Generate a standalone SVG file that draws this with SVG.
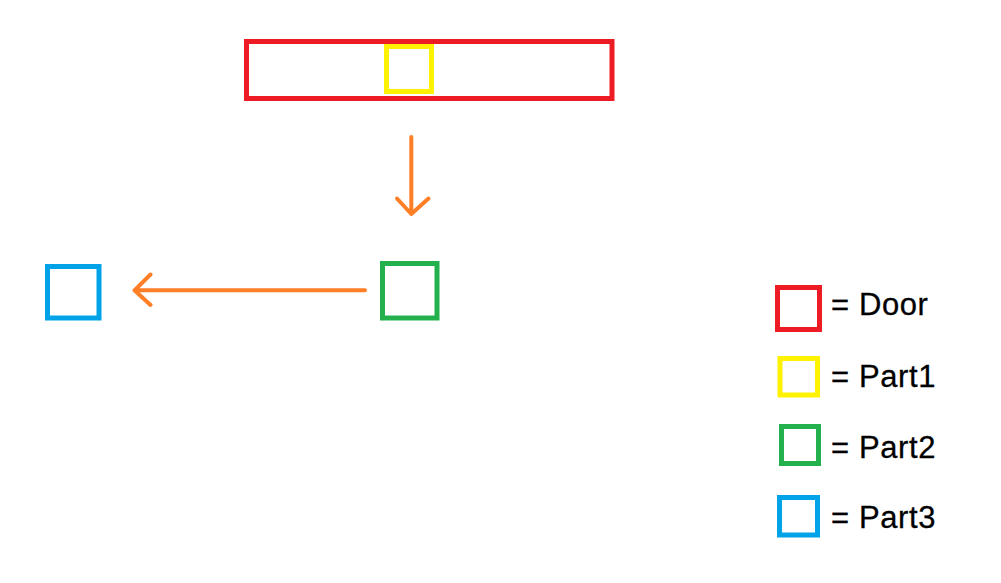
<svg xmlns="http://www.w3.org/2000/svg" width="1001" height="583" viewBox="0 0 1001 583">
<style>
.box{fill:none;stroke-width:5}
.red{stroke:#ED1C24}
.yellow{stroke:#FFF200}
.green{stroke:#22B14C}
.blue{stroke:#00A2E8}
.conn{fill:none;stroke:#FF7F27;stroke-width:4;stroke-linecap:round;stroke-linejoin:round}
.lbl{font-family:"Liberation Sans",Arial,sans-serif;font-size:31px;letter-spacing:0.6px;fill:#000;stroke:#000;stroke-width:0.3}
</style>
<rect width="1001" height="583" fill="#fff"/>
<g id="door"><rect class="box red" x="246.5" y="41.5" width="365.5" height="57"/></g>
<g id="part1"><rect class="box yellow" x="386.5" y="46.5" width="45" height="45"/></g>
<g id="part2"><rect class="box green" x="382.5" y="263.5" width="54.5" height="54.5"/></g>
<g id="part3"><rect class="box blue" x="47.5" y="266.5" width="51.5" height="51.5"/></g>
<g id="connectors">
<path class="conn" d="M411.3,137 V214 M397,198.5 L411.3,214 L428.5,198.5"/>
<path class="conn" d="M365,290.3 H134.5 M150.5,274.5 L134.5,290.3 L150.5,305"/>
</g>
<g id="legend">
<rect class="box red" x="777.5" y="287.5" width="42" height="42"/>
<text class="lbl" x="831" y="315">= Door</text>
<rect class="box yellow" x="780" y="358.5" width="37.5" height="36.5"/>
<text class="lbl" x="831" y="386.5">= Part1</text>
<rect class="box green" x="781.5" y="426.5" width="37" height="37"/>
<text class="lbl" x="831" y="458.3">= Part2</text>
<rect class="box blue" x="779.5" y="497.5" width="38" height="37.5"/>
<text class="lbl" x="831" y="528.3">= Part3</text>
</g>
</svg>
